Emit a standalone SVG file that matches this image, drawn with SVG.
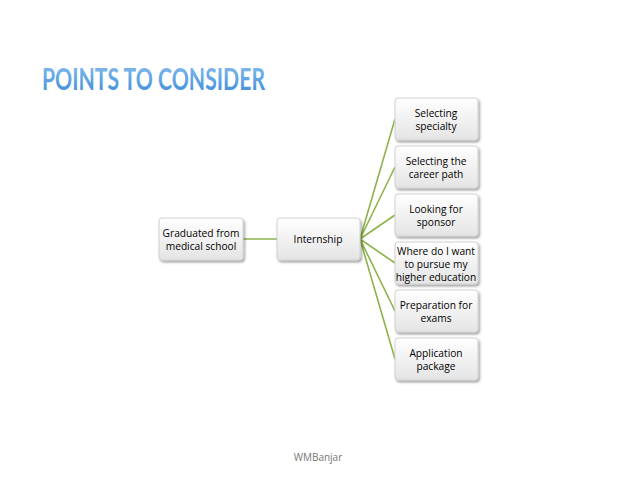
<svg xmlns="http://www.w3.org/2000/svg" width="638" height="478" viewBox="0 0 638 478">
<defs>
<linearGradient id="bg" x1="0" y1="0" x2="0" y2="1"><stop offset="0" stop-color="#ffffff"/><stop offset="1" stop-color="#e4e4e4"/></linearGradient>
<linearGradient id="tg" x1="0" y1="0" x2="0" y2="1"><stop offset="0" stop-color="#8ec3f0"/><stop offset="1" stop-color="#3a8ad8"/></linearGradient>
<filter id="sh" x="-10%" y="-10%" width="130%" height="140%"><feDropShadow dx="1.5" dy="2" stdDeviation="1.2" flood-color="#000" flood-opacity="0.35"/></filter>
</defs>
<style>
.b{fill:url(#bg);stroke:#d0d0d0;stroke-width:1;filter:url(#sh)}
.t{font-family:"Open Sans","Liberation Sans",sans-serif;font-size:10.2px;fill:#000;text-anchor:middle}
.c{stroke:#8db34a;stroke-width:1.6;fill:none}
</style>
<rect width="638" height="478" fill="#fff"/>
<text x="42" y="90" font-family="Lato,'Open Sans',sans-serif" font-weight="bold" font-size="31" fill="url(#tg)" textLength="223" lengthAdjust="spacingAndGlyphs">POINTS TO CONSIDER</text>
<g id="connectors">
<line class="c" x1="243" y1="239" x2="277" y2="239"/>
<path class="c" d="M360 239 L395 119 M360 239 L395 167 M360 239 L395 215 M360 239 L395 263 M360 239 L395 311 M360 239 L395 359"/>
</g>
<g id="n1"><rect class="b" x="159" y="218" width="84" height="42" rx="3"/><text class="t" x="201" y="237">Graduated from</text><text class="t" x="201" y="250">medical school</text></g>
<g id="n2"><rect class="b" x="277" y="218" width="83" height="42" rx="3"/><text class="t" x="318" y="243">Internship</text></g>
<g id="n3"><rect class="b" x="395" y="98" width="83" height="42" rx="3"/><text class="t" x="436" y="117">Selecting</text><text class="t" x="436" y="130">specialty</text></g>
<g id="n4"><rect class="b" x="395" y="146" width="83" height="42" rx="3"/><text class="t" x="436" y="165">Selecting the</text><text class="t" x="436" y="178">career path</text></g>
<g id="n5"><rect class="b" x="395" y="194" width="83" height="42" rx="3"/><text class="t" x="436" y="213">Looking for</text><text class="t" x="436" y="226">sponsor</text></g>
<g id="n6"><rect class="b" x="395" y="242" width="83" height="42" rx="3"/><text class="t" x="436" y="255">Where do I want</text><text class="t" x="436" y="268">to pursue my</text><text class="t" x="436" y="281">higher education</text></g>
<g id="n7"><rect class="b" x="395" y="290" width="83" height="42" rx="3"/><text class="t" x="436" y="309">Preparation for</text><text class="t" x="436" y="322">exams</text></g>
<g id="n8"><rect class="b" x="395" y="338" width="83" height="42" rx="3"/><text class="t" x="436" y="357">Application</text><text class="t" x="436" y="370">package</text></g>
<text x="318" y="461" font-family="'Open Sans','Liberation Sans',sans-serif" font-size="10" fill="#777" text-anchor="middle">WMBanjar</text>
</svg>
